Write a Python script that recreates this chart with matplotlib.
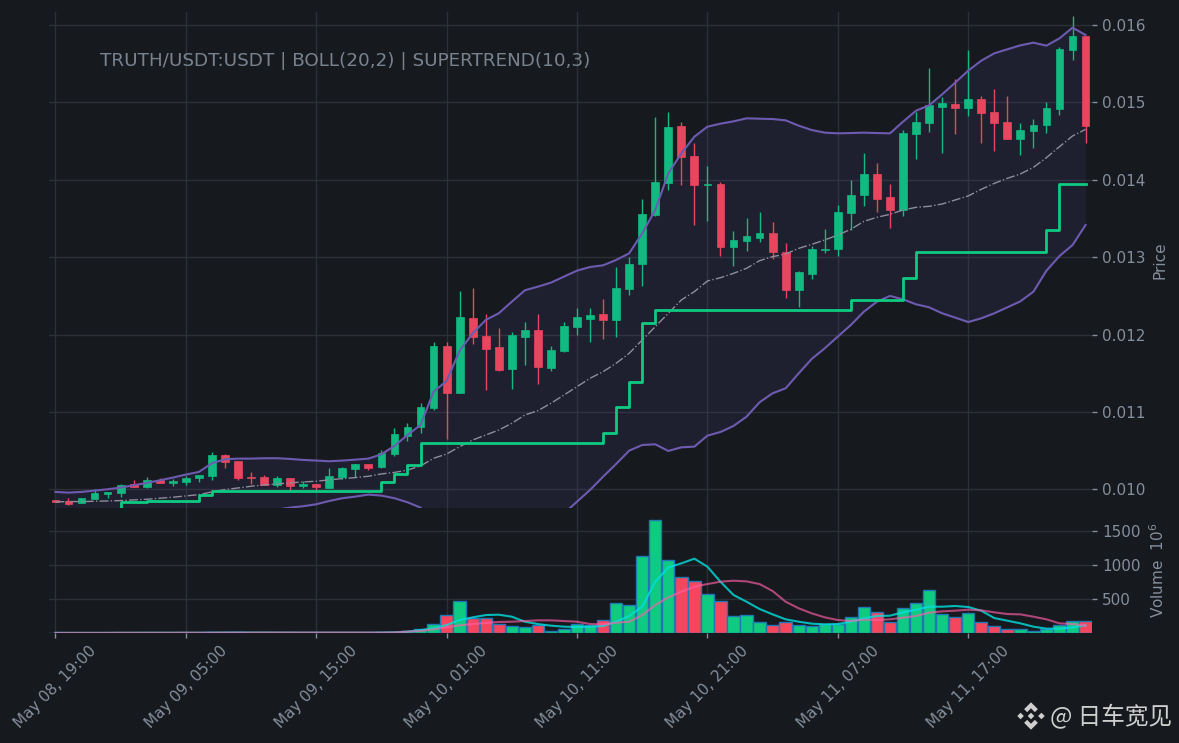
#!/usr/bin/env python3
"""TRUTH/USDT:USDT hourly candles with BOLL, SUPERTREND and a volume panel."""
import matplotlib
matplotlib.use("Agg")
import matplotlib.pyplot as plt
from matplotlib.patches import Polygon
import numpy as np

# all prices below are in units of 1e-5
opens = [986.4, 985.1, 982.6, 987.7, 994.2, 995.5, 1007.1, 1003.2, 1011.8, 1008.4,
         1009.7, 1014.9, 1017.9, 1044.6, 1036.8, 1015.7, 1016.2, 1006.2, 1014.9, 1004.5,
         1007.1, 1001.9, 1016.2, 1026.5, 1033.0, 1029.1, 1045.9, 1069.1, 1081.1, 1105.7,
         1185.3, 1125.1, 1221.5, 1198.3, 1184.1, 1156.1, 1197.0, 1206.0, 1157.3, 1178.9,
         1210.3, 1220.7, 1226.7, 1219.4, 1259.4, 1291.7, 1354.6, 1396.4, 1469.6, 1430.8,
         1393.4, 1395.0, 1313.7, 1321.4, 1324.9, 1331.3, 1307.2, 1258.1, 1278.8, 1309.8,
         1311.1, 1357.6, 1380.9, 1407.6, 1377.9, 1361.5, 1459.7, 1473.9, 1494.6, 1498.0,
         1493.3, 1504.5, 1487.7, 1474.8, 1453.2, 1463.6, 1471.3, 1492.0, 1568.2, 1585.9]
highs = [986.4, 988.6, 989.4, 1000.2, 996.8, 1006.7, 1011.8, 1016.2, 1014.9, 1013.1,
         1017.4, 1019.2, 1048.5, 1045.4, 1036.8, 1022.6, 1018.3, 1017.0, 1014.9, 1010.6,
         1007.1, 1027.3, 1029.1, 1033.0, 1033.0, 1051.5, 1079.0, 1085.5, 1112.1, 1190.9,
         1190.9, 1256.8, 1260.7, 1226.3, 1208.2, 1203.0, 1215.9, 1226.3, 1185.8, 1215.9,
         1234.9, 1234.9, 1245.6, 1287.9, 1300.8, 1375.7, 1481.7, 1488.1, 1475.2, 1448.1,
         1418.4, 1397.7, 1334.4, 1350.3, 1358.0, 1345.1, 1318.0, 1281.8, 1314.6, 1336.1,
         1368.0, 1400.2, 1435.1, 1421.4, 1394.2, 1464.4, 1487.7, 1545.0, 1507.5, 1529.9,
         1567.8, 1508.8, 1517.8, 1508.8, 1473.9, 1478.2, 1500.6, 1572.1, 1611.3, 1585.9]
lows = [983.8, 980.4, 982.1, 987.3, 988.6, 990.7, 1002.8, 1002.4, 1008.0, 1005.0,
        1005.4, 1009.7, 1012.7, 1028.2, 1012.7, 1007.5, 1005.8, 1003.7, 998.5, 1001.9,
        998.9, 1001.9, 1013.1, 1016.2, 1025.6, 1027.8, 1042.9, 1063.1, 1072.5, 1102.7,
        1064.7, 1124.2, 1187.5, 1128.1, 1152.6, 1129.4, 1160.4, 1136.7, 1152.6, 1177.2,
        1199.1, 1190.1, 1194.0, 1196.5, 1250.8, 1262.4, 1353.3, 1386.5, 1393.0, 1341.3,
        1346.4, 1301.2, 1288.3, 1308.5, 1319.3, 1297.3, 1247.0, 1235.3, 1271.5, 1305.1,
        1301.6, 1335.2, 1365.8, 1358.0, 1338.2, 1352.9, 1426.5, 1461.4, 1434.3, 1458.8,
        1482.5, 1447.2, 1436.9, 1452.4, 1432.1, 1440.7, 1460.1, 1483.4, 1554.9, 1447.2]
closes = [983.8, 981.3, 989.0, 995.5, 996.8, 1005.8, 1003.7, 1012.3, 1008.4, 1011.0,
          1014.9, 1018.7, 1044.6, 1035.5, 1014.9, 1014.9, 1005.8, 1014.9, 1004.5, 1007.1,
          1002.8, 1017.4, 1027.8, 1033.0, 1027.8, 1047.2, 1071.7, 1080.8, 1106.5, 1185.3,
          1125.1, 1222.8, 1197.4, 1181.9, 1154.8, 1199.6, 1206.0, 1158.6, 1180.2, 1211.2,
          1222.8, 1225.4, 1219.4, 1259.9, 1291.3, 1355.9, 1397.2, 1468.3, 1430.0, 1393.8,
          1395.0, 1313.7, 1322.3, 1327.5, 1331.3, 1307.2, 1258.1, 1280.9, 1310.7, 1310.7,
          1358.5, 1380.4, 1407.6, 1375.7, 1361.5, 1460.6, 1474.8, 1496.7, 1499.3, 1493.3,
          1504.5, 1486.8, 1473.9, 1453.2, 1464.4, 1470.9, 1492.9, 1569.1, 1585.9, 1470.0]

boll_upper = [996.8, 995.9, 996.8, 998.5, 1000.2, 1002.4, 1005.4, 1008.4, 1011.8, 1015.3,
              1019.2, 1022.6, 1033.8, 1039.0, 1039.8, 1039.8, 1040.3, 1040.3, 1039.4, 1038.1,
              1037.3, 1036.4, 1037.3, 1038.5, 1039.8, 1045.4, 1056.2, 1070.4, 1083.3, 1126.3,
              1140.1, 1179.3, 1201.7, 1219.0, 1227.6, 1242.6, 1257.3, 1262.0, 1267.2, 1275.0,
              1282.7, 1287.4, 1289.6, 1296.5, 1305.1, 1330.9, 1361.1, 1408.4, 1434.3, 1455.8,
              1468.7, 1472.6, 1475.6, 1479.5, 1479.0, 1478.6, 1476.9, 1470.0, 1464.4, 1461.0,
              1460.1, 1460.5, 1461.0, 1460.5, 1460.1, 1475.2, 1489.4, 1496.3, 1510.5, 1525.6,
              1541.1, 1554.0, 1563.5, 1568.7, 1573.8, 1577.3, 1573.4, 1582.9, 1596.7, 1587.2]
boll_mid = [983.8, 984.3, 984.3, 984.7, 985.1, 985.6, 986.4, 987.3, 988.6, 989.9,
            991.6, 993.3, 996.8, 999.8, 1001.9, 1004.1, 1005.8, 1007.1, 1008.4, 1009.7,
            1010.6, 1012.3, 1014.0, 1015.3, 1017.0, 1020.0, 1022.0, 1025.0, 1030.3, 1040.2,
            1045.8, 1055.3, 1063.9, 1070.3, 1076.8, 1085.4, 1096.2, 1101.8, 1111.3, 1122.0,
            1132.8, 1143.6, 1152.2, 1163.0, 1175.9, 1193.1, 1210.3, 1227.6, 1244.8, 1255.6,
            1269.3, 1273.6, 1279.2, 1285.7, 1295.6, 1300.8, 1304.2, 1311.5, 1316.7, 1322.3,
            1328.8, 1336.1, 1346.4, 1351.6, 1355.5, 1361.1, 1364.5, 1365.8, 1368.8, 1374.0,
            1379.2, 1387.8, 1395.5, 1402.0, 1407.6, 1416.2, 1428.7, 1442.9, 1456.7, 1465.3]
boll_lower = [971.0, 973.0, 972.0, 971.0, 970.0, 969.0, 967.5, 966.0, 965.5, 964.5,
              964.0, 964.0, 960.0, 960.0, 964.0, 968.0, 971.0, 974.0, 976.5, 978.3,
              980.8, 985.1, 988.6, 990.7, 993.3, 992.0, 988.6, 983.4, 976.5, 954.0,
              951.5, 931.0, 926.0, 921.5, 926.0, 928.0, 935.0, 941.5, 955.5, 969.0,
              984.2, 999.3, 1016.5, 1032.9, 1050.1, 1057.4, 1058.3, 1049.7, 1054.4, 1055.3,
              1069.5, 1074.2, 1082.0, 1094.0, 1112.6, 1124.2, 1130.7, 1150.0, 1168.6, 1182.4,
              1197.5, 1212.5, 1229.7, 1242.6, 1250.0, 1245.6, 1239.2, 1235.3, 1227.6, 1222.0,
              1216.3, 1221.1, 1227.6, 1235.3, 1243.0, 1255.5, 1282.7, 1301.6, 1315.8, 1341.7]
supertrend = [np.nan, np.nan, np.nan, np.nan, 970.0, 983.4, 983.4, 985.1, 985.1, 985.1,
              985.1, 992.9, 998.0, 998.0, 998.0, 998.0, 998.0, 998.0, 998.0, 998.0,
              998.0, 998.0, 998.0, 998.0, 998.0, 1009.7, 1019.6, 1031.7, 1059.6, 1059.6,
              1059.6, 1059.6, 1059.6, 1059.6, 1059.6, 1059.6, 1059.6, 1059.6, 1059.6, 1059.6,
              1059.6, 1059.6, 1072.5, 1106.1, 1138.4, 1214.6, 1231.4, 1231.4, 1231.4, 1231.4,
              1231.4, 1231.4, 1231.4, 1231.4, 1231.4, 1231.4, 1231.4, 1231.4, 1231.4, 1231.4,
              1231.4, 1244.8, 1244.8, 1244.8, 1244.8, 1272.8, 1307.2, 1307.2, 1307.2, 1307.2,
              1307.2, 1307.2, 1307.2, 1307.2, 1307.2, 1307.2, 1335.2, 1394.2, 1394.2, 1394.2]

# volume in units of 1e6
volumes = [2, 2, 2, 3, 2, 5, 4, 5, 3, 3,
           4, 3, 10, 8, 8, 4, 5, 6, 6, 3,
           3, 7, 6, 4, 3, 10, 15, 29, 54, 137,
           260, 465, 225, 225, 127, 98, 83, 113, 34, 54,
           127, 112, 186, 436, 407, 1127, 1656, 1068, 818, 759,
           568, 465, 245, 260, 157, 113, 157, 113, 98, 127,
           132, 240, 377, 304, 157, 362, 436, 627, 274, 240,
           289, 157, 98, 64, 64, 34, 54, 113, 171, 171]
vol_ma_fast = [2, 2, 2, 2, 2, 3, 3, 4, 4, 4,
               4, 4, 5, 6, 7, 7, 7, 6, 6, 5,
               5, 5, 5, 5, 5, 6, 10, 20, 44, 68,
               117, 191, 230, 264, 269, 240, 166, 132, 108, 93,
               88, 93, 103, 166, 250, 387, 754, 965, 1024, 1093,
               975, 754, 559, 460, 353, 274, 201, 166, 137, 127,
               132, 166, 215, 250, 255, 304, 343, 387, 387, 397,
               382, 328, 220, 181, 142, 93, 64, 64, 83, 113]
vol_ma_slow = [2, 2, 2, 2, 2, 3, 3, 3, 3, 3,
               4, 4, 4, 5, 5, 5, 6, 6, 6, 6,
               6, 6, 6, 6, 6, 6, 8, 20, 29, 54,
               83, 113, 132, 147, 162, 166, 176, 186, 186, 176,
               166, 132, 127, 152, 166, 264, 411, 524, 608, 681,
               720, 754, 769, 759, 720, 617, 460, 363, 289, 230,
               191, 176, 196, 191, 201, 225, 250, 299, 318, 328,
               343, 333, 304, 279, 274, 240, 201, 142, 132, 108]

price_ticks = [0.010, 0.011, 0.012, 0.013, 0.014, 0.015, 0.016]
volume_ticks = [500, 1000, 1500]
date_ticks = [0, 10, 20, 30, 40, 50, 60, 70]
date_labels = ["May 08, 19:00", "May 09, 05:00", "May 09, 15:00", "May 10, 01:00",
               "May 10, 11:00", "May 10, 21:00", "May 11, 07:00", "May 11, 17:00"]

BG = "#161a1e"
GRID = "#2b2f36"
TEXT = "#848e9c"
UP = "#12b980"
DOWN = "#e8455f"
BAND = "#6c5bb0"
W, H = 1179, 743


def px_rect(left, top, right, bottom):
    # pixel box in the image -> figure fractions
    return [left / W, 1 - bottom / H, (right - left) / W, (bottom - top) / H]


def style_axis(ax):
    ax.set_facecolor(BG)
    ax.grid(True, color=GRID, linewidth=1)
    ax.set_axisbelow(True)
    ax.yaxis.tick_right()
    ax.yaxis.set_label_position("right")
    ax.tick_params(colors=TEXT, labelsize=11, length=3.6, width=1)
    for spine in ax.spines.values():
        spine.set_visible(False)


def main():
    x = np.arange(len(closes))
    o, h, l, c = [np.array(a) * 1e-5 for a in (opens, highs, lows, closes)]
    rising = c >= o
    colors = np.where(rising, UP, DOWN)

    fig = plt.figure(figsize=(W / 100, H / 100), dpi=100, facecolor=BG)
    ax = fig.add_axes(px_rect(48.9, 12, 1092.1, 508))
    ax_vol = fig.add_axes(px_rect(48.9, 508, 1092.1, 633), sharex=ax)
    style_axis(ax)
    style_axis(ax_vol)

    # ── BOLL ──
    upper = np.array(boll_upper) * 1e-5
    lower = np.array(boll_lower) * 1e-5
    ax.fill_between(x, lower, upper, color="#6a5acd", alpha=0.10, linewidth=0, zorder=1)
    ax.plot(x, upper, color=BAND, lw=1.5, zorder=4)
    ax.plot(x, lower, color=BAND, lw=1.5, zorder=4)
    ax.plot(x, np.array(boll_mid) * 1e-5, color="#8d8d9c", lw=1, ls="-.", zorder=4)

    # ── candles ──
    ax.vlines(x, l, h, colors=colors, lw=1, zorder=2)
    ax.bar(x, np.abs(c - o), bottom=np.minimum(o, c), width=0.6, color=colors,
           edgecolor=colors, linewidth=0.5, zorder=3)

    # ── SUPERTREND ──
    ax.plot(x, np.array(supertrend) * 1e-5, color="#0ecb81", lw=2, drawstyle="steps-post", zorder=5)

    ax.set_xlim(-0.5, 79.5)
    ax.set_ylim(0.00976, 0.016169)
    ax.set_yticks(price_ticks)
    ax.set_yticklabels([f"{t:.3f}" for t in price_ticks])
    ax.set_ylabel("Price", color=TEXT, fontsize=11, labelpad=5)
    ax.tick_params(axis="x", which="both", length=0, labelbottom=False)
    fig.text(100 / W, 1 - 61 / H, "TRUTH/USDT:USDT | BOLL(20,2) | SUPERTREND(10,3)", color=TEXT,
             fontsize=13.27, va="center", ha="left", alpha=0.9)

    # ── volume ──
    vol_colors = np.where(rising, "#0ecb81", "#f6465d")
    ax_vol.bar(x, volumes, width=0.95, color=vol_colors, edgecolor="#1f77b4", linewidth=1, zorder=2)
    ax_vol.plot(x, vol_ma_fast, color="#00e0e0", alpha=0.8, lw=1.5, zorder=3)
    ax_vol.plot(x, vol_ma_slow, color="#ff5fa8", alpha=0.65, lw=1.5, zorder=3)
    ax_vol.set_ylim(0, 1838)
    ax_vol.set_yticks(volume_ticks)
    ax_vol.set_ylabel(r"Volume  $10^{6}$", color=TEXT, fontsize=11, labelpad=5.5)
    ax_vol.set_xticks(date_ticks)
    ax_vol.set_xticklabels(date_labels, rotation=45, ha="center", rotation_mode="default")

    # ── watermark ──
    ax_logo = fig.add_axes(px_rect(1017, 702, 1045, 730))
    ax_logo.set_xlim(-1.02, 1.02)
    ax_logo.set_ylim(-1.02, 1.02)
    ax_logo.axis("off")
    chevron = np.array([[0, 1.0], [0.5, 0.5], [0.28, 0.28], [0, 0.56], [-0.28, 0.28], [-0.5, 0.5]])
    diamond = np.array([[0, 0.24], [0.24, 0], [0, -0.24], [-0.24, 0]])
    for pts in (chevron, chevron * [1, -1], diamond, diamond + [0.76, 0], diamond - [0.76, 0]):
        ax_logo.add_patch(Polygon(pts, closed=True, color="#cfcfcf", lw=0))
    fig.text(1050 / W, 1 - 717 / H, "@ 日车宽见", color="#cfcfcf", fontsize=17, va="center", ha="left",
             family=["Noto Sans CJK SC", "DejaVu Sans"])

    fig.savefig("out.png", dpi=100, facecolor=BG)


if __name__ == "__main__":
    main()
